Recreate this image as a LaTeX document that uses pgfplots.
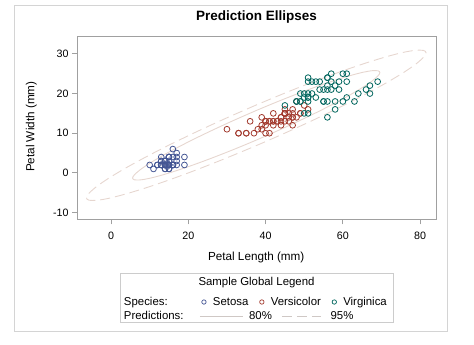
\documentclass[border=0pt]{standalone}
\usepackage{fontspec}
\setmainfont{Liberation Sans}
\usepackage{pgfplots}
\pgfplotsset{compat=1.18}
\definecolor{setosacol}{HTML}{445694}
\definecolor{versicol}{HTML}{A23A2E}
\definecolor{virgcol}{HTML}{01665E}
\definecolor{ellcol}{HTML}{E6D6CF}
\definecolor{axgray}{HTML}{A0A0A0}
\definecolor{framegray}{HTML}{D4D4D4}
\definecolor{leggray}{HTML}{CCCCCC}
\definecolor{legline}{HTML}{CFC8C5}
\pgfplotsset{
  markleg/.style={legend image code/.code={\draw[##1] plot coordinates {(0bp,0bp)};}},
  leg80/.style={legend image code/.code={\draw[overlay, legline, line width=0.8bp] (-4bp,0bp) -- (39bp,0bp);}},
  leg95/.style={legend image code/.code={\draw[overlay, legline, line width=0.8bp, dash pattern=on 10bp off 5bp] (20bp,0bp) -- (59bp,0bp);}},
}
\begin{document}
\begin{tikzpicture}
\path[use as bounding box] (0bp,0bp) rectangle (474bp,345bp);
\draw[framegray, line width=0.8bp] (14bp,13.3bp) rectangle (447bp,340bp);
\begin{axis}[
  at={(77bp,125.7bp)}, anchor=south west,
  scale only axis, width=359bp, height=183.3bp,
  xmin=-8.8, xmax=84.1, ymin=-11.7, ymax=34.5,
  xtick={0,20,40,60,80}, ytick={-10,0,10,20,30},
  tick align=outside, tick pos=left, major tick length=5bp,
  axis line style={axgray, line width=0.8bp},
  tick style={axgray, line width=0.8bp},
  /pgf/number format/assume math mode=true,
  ticklabel style={font=\fontsize{10.7bp}{12bp}\selectfont},
  xticklabel style={yshift=-4bp},
  title={\bfseries Prediction Ellipses},
  title style={at={(0.5,1.0518)}, anchor=base, font=\fontsize{13.5bp}{16bp}\selectfont},
  xlabel={Petal Length (mm)},
  xlabel style={at={(0.4992,-0.2248)}, anchor=base, font=\fontsize{11.7bp}{14bp}\selectfont},
  ylabel={Petal Width (mm)},
  ylabel style={at={(-0.1189,0.505)}, anchor=base, font=\fontsize{11.7bp}{14bp}\selectfont},
  legend columns=4,
  legend style={at={(0.1309,-0.4212)}, anchor=north west, draw=none, fill=none,
    inner sep=0pt, outer sep=0pt,
    font=\fontsize{11.4bp}{13bp}\selectfont,
    row sep=3bp, column sep=6.8bp,
    nodes={inner sep=0pt, text height=9bp, text depth=2bp},
    cells={anchor=west, inner sep=0pt, text height=9bp, text depth=2bp},
    /tikz/every even column/.append style={column sep=11.2bp},
    /tikz/column 1/.style={column sep=0pt}},
]
% 95% prediction ellipse
\addplot[forget plot, ellcol, line width=0.9bp, smooth, dash pattern=on 10bp off 5bp] coordinates {
(37.58,17.11) (29.95,13.86) (22.55,10.55) (15.61,7.29) (9.34,4.17) (3.92,1.29)
(-0.47,-1.27) (-3.71,-3.43) (-5.69,-5.11) (-6.19,-5.76) (-6.36,-6.28) (-6.19,-6.65) (-5.69,-6.89)
(-3.71,-6.93) (-0.47,-6.39) (3.92,-5.29) (9.34,-3.67) (15.61,-1.58) (22.55,0.93)
(29.95,3.78) (37.58,6.87) (45.21,10.12) (52.61,13.43) (59.55,16.69) (65.82,19.81)
(71.24,22.69) (75.63,25.25) (78.87,27.41) (80.85,29.10) (81.35,29.74) (81.52,30.26) (81.35,30.63)
(80.85,30.87) (78.87,30.91) (75.63,30.37) (71.24,29.27) (65.82,27.65) (59.55,25.56)
(52.61,23.05) (45.21,20.20) (37.58,17.11)};
% 80% prediction ellipse
\addplot[forget plot, ellcol, line width=0.9bp, smooth] coordinates {
(37.58,15.72) (32.03,13.35) (26.64,10.94) (21.58,8.57) (17.02,6.30) (13.08,4.20)
(9.88,2.34) (7.52,0.77) (6.08,-0.46) (5.71,-0.93) (5.59,-1.31) (5.71,-1.58) (6.08,-1.75)
(7.52,-1.78) (9.88,-1.39) (13.08,-0.59) (17.02,0.59) (21.58,2.11) (26.64,3.94)
(32.03,6.01) (37.58,8.26) (43.13,10.63) (48.52,13.04) (53.58,15.41) (58.14,17.68)
(62.08,19.78) (65.28,21.64) (67.64,23.21) (69.08,24.44) (69.45,24.91) (69.57,25.29) (69.45,25.56)
(69.08,25.73) (67.64,25.76) (65.28,25.37) (62.08,24.57) (58.14,23.39) (53.58,21.87)
(48.52,20.04) (43.13,17.97) (37.58,15.72)};
% Setosa
\addplot[forget plot, only marks, mark=o, setosacol, mark size=2.9bp, mark options={line width=0.8bp}] table {
14 2
14 2
13 2
15 2
14 2
17 4
14 3
15 2
14 2
15 1
15 2
16 2
14 1
11 1
12 2
15 4
13 4
14 3
17 3
15 3
17 2
15 4
10 2
17 5
19 2
16 2
16 4
15 2
14 2
16 2
16 2
15 4
15 1
14 2
15 2
12 2
13 2
14 1
13 2
15 2
13 3
13 3
13 2
16 6
19 4
14 3
16 2
14 2
15 2
14 2
};
% Versicolor
\addplot[forget plot, only marks, mark=o, versicol, mark size=2.9bp, mark options={line width=0.8bp}] table {
47 14
45 15
49 15
40 13
46 15
45 13
47 16
33 10
46 13
39 14
35 10
42 15
40 10
47 14
36 13
44 14
45 15
41 10
45 15
39 11
48 18
40 13
49 15
47 12
43 13
44 14
48 14
50 17
45 15
35 10
38 11
37 10
39 12
51 16
45 15
45 16
47 15
44 13
41 13
40 13
44 12
46 14
40 12
33 10
42 13
42 12
42 13
43 13
30 11
41 13
};
% Virginica
\addplot[forget plot, only marks, mark=o, virgcol, mark size=2.9bp, mark options={line width=0.8bp}] table {
60 25
51 19
59 21
56 18
58 22
66 21
45 17
63 18
58 18
61 25
51 20
53 19
55 21
50 20
51 24
53 23
55 18
67 22
69 23
50 15
57 23
49 20
67 20
49 18
57 21
60 18
48 18
49 18
56 21
58 16
61 19
64 20
56 22
51 15
56 14
61 23
56 24
55 18
48 18
54 21
56 24
51 23
51 19
59 23
57 25
52 23
50 19
52 20
54 23
51 18
};
\addlegendimage{empty legend}\addlegendentry{Species:}
\addlegendimage{markleg, only marks, mark=o, setosacol, mark size=2.2bp, mark options={line width=0.7bp}}\addlegendentry{Setosa}
\addlegendimage{markleg, only marks, mark=o, versicol, mark size=2.2bp, mark options={line width=0.7bp}}\addlegendentry{Versicolor}
\addlegendimage{markleg, only marks, mark=o, virgcol, mark size=2.2bp, mark options={line width=0.7bp}}\addlegendentry{Virginica}
\addlegendimage{empty legend}\addlegendentry{Predictions:\rule{7bp}{0pt}}
\addlegendimage{leg80}\addlegendentry{\makebox[0pt][l]{\hspace{35.7bp}80\%}}
\addlegendimage{leg95}\addlegendentry{\makebox[0pt][l]{\hspace{59.3bp}95\%}}
\end{axis}
\draw[leggray, line width=0.8bp] (120bp,22.7bp) rectangle (393bp,71.3bp);
\node[anchor=base, font=\fontsize{11.4bp}{13bp}\selectfont, inner sep=0pt] at (256.5bp,59.9bp) {Sample Global Legend};
\end{tikzpicture}
\end{document}
